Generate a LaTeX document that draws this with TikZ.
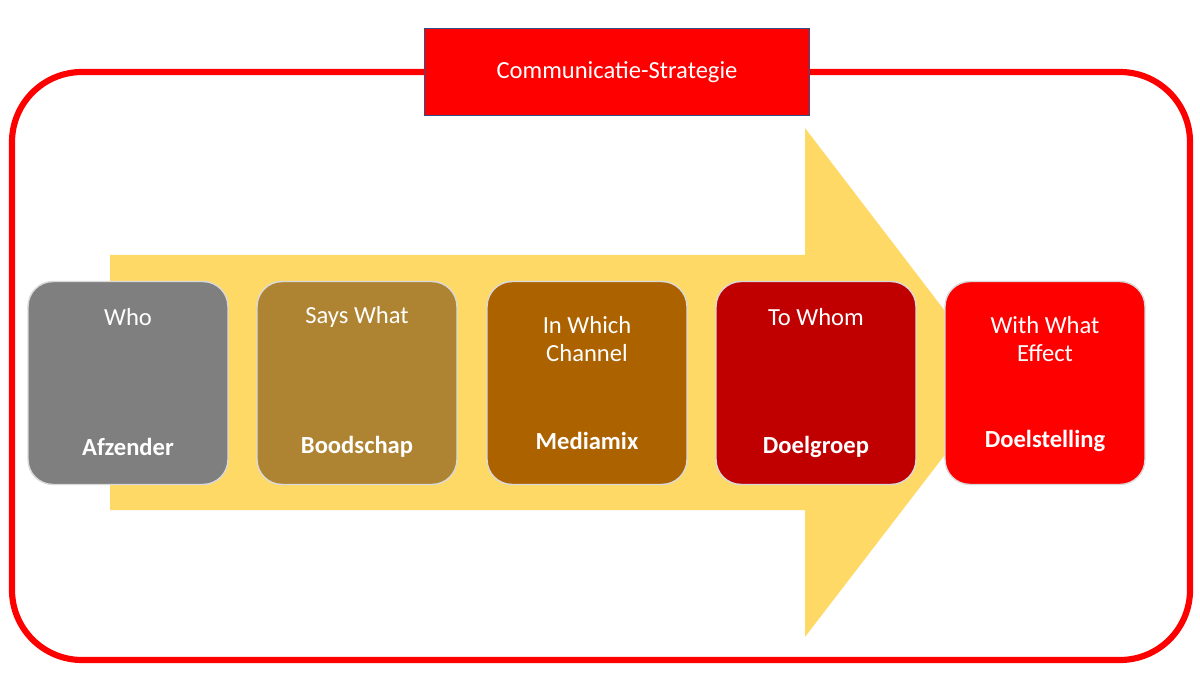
\documentclass[tikz,border=0pt]{standalone}
\usepackage{fontspec}
\setmainfont{Carlito}
\usetikzlibrary{positioning}
\definecolor{arrowyellow}{HTML}{FFD966}
\definecolor{boxgray}{HTML}{7F7F7F}
\definecolor{boxgold}{HTML}{AE8433}
\definecolor{boxbrown}{HTML}{AD6200}
\definecolor{boxdark}{HTML}{C00000}
\definecolor{boxred}{HTML}{FF0000}
\definecolor{titleborder}{HTML}{2F528F}

\begin{document}
\begin{tikzpicture}[x=0.02cm, y=-0.02cm,
        step_style/.style={draw=white!85!black, line width=0.8pt, rounded corners=0.5cm,
            minimum width=4cm, minimum height=4.06cm, text=white, inner sep=0pt},
        top_text/.style={text=white, font=\fontsize{14}{16}\selectfont, align=center},
        bottom_text/.style={text=white, font=\fontsize{14}{16}\selectfont\bfseries}]

        \useasboundingbox (0,0) rectangle (1200,675);

        \draw [draw=red, line width=3.5pt, rounded corners=1.4cm] (12,72) rectangle (1190,660);

        \fill [arrowyellow] (110,255) -- (805,255) -- (805,128) -- (1000,383)
            -- (805,637) -- (805,510) -- (110,510) -- cycle;

        \node [draw=titleborder, fill=red, line width=0.8pt, minimum width=7.7cm, minimum height=1.74cm,
            text=white, font=\fontsize{14}{16}\selectfont] (title) at (617,72) {Communicatie-Strategie};

        \node [step_style, fill=boxgray] (s1) at (128,383) {};
        \node [step_style, fill=boxgold] (s2) at (357,383) {};
        \node [step_style, fill=boxbrown] (s3) at (587,383) {};
        \node [step_style, fill=boxdark] (s4) at (816,383) {};
        \node [step_style, fill=boxred] (s5) at (1045,383) {};

        \node [top_text] (t1) at (128,317) {Who};
        \node [top_text] (t2) at (357,317) {Says What};
        \node [top_text] (t3) at (587,339) {In Which\\Channel};
        \node [top_text] (t4) at (816,317) {To Whom};
        \node [top_text] (t5) at (1045,339) {With What\\Effect};

        \node [bottom_text] (b1) at (128,447) {Afzender};
        \node [bottom_text] (b2) at (357,447) {Boodschap};
        \node [bottom_text] (b3) at (587,441) {Mediamix};
        \node [bottom_text] (b4) at (816,447) {Doelgroep};
        \node [bottom_text] (b5) at (1045,441) {Doelstelling};

        \end{tikzpicture}
\end{document}
